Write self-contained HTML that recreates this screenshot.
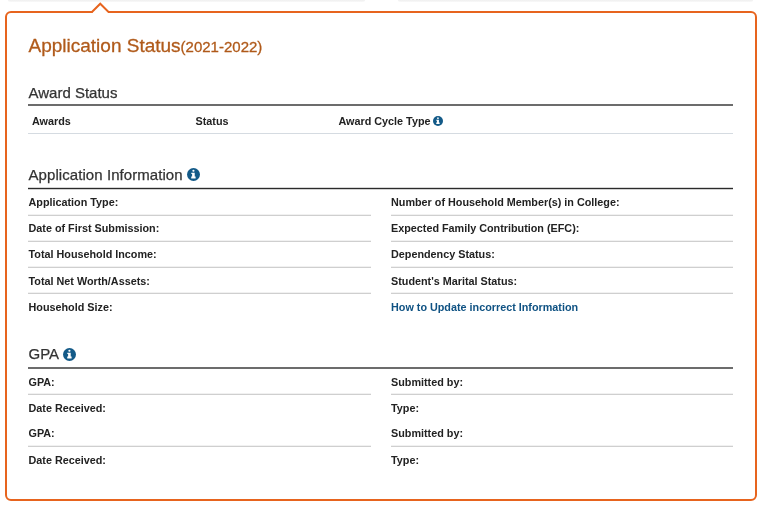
<!DOCTYPE html>
<html>
<head>
<meta charset="utf-8">
<style>
html,body{margin:0;padding:0;background:#fff;}
body{width:768px;height:507px;overflow:hidden;position:relative;font-family:"Liberation Sans",sans-serif;}
.strip{position:absolute;top:0;height:2px;background:linear-gradient(#efefef,#f9f9f9);border-radius:0 0 3px 3px;}
.box{position:absolute;left:5px;top:11px;width:748px;height:486px;border:2px solid #e7641e;border-radius:6px;}
.t{position:absolute;white-space:nowrap;line-height:1;}
.title{font-size:19px;color:#b05a1a;-webkit-text-stroke:0.3px #b05a1a;}
.title span{font-size:15px;}
.h{font-size:15px;color:#333;-webkit-text-stroke:0.25px #333;}
.b{font-size:10.8px;font-weight:bold;color:#222;}
.link{color:#0f5283;}
.ln{position:absolute;height:1px;}
.thick{height:2px;background:#6c6c6c;}
.thin{background:#cfcfcf;box-shadow:0 -1px 0 #f1f1f1;}
.icon{position:absolute;}
</style>
</head>
<body>
<div id="wrap" style="position:absolute;left:0;top:0;width:768px;height:507px;will-change:transform;">
<div class="strip" style="left:8px;width:357px;"></div>
<div class="strip" style="left:398px;width:355px;"></div>
<div class="box"></div>
<svg style="position:absolute;left:0;top:0" width="768" height="20">
  <rect x="92.5" y="10" width="15.5" height="4" fill="#fff"/>
  <polyline points="84,12 91.95,12 100.25,3.7 108.55,12 116,12" fill="none" stroke="#e7641e" stroke-width="2" stroke-linejoin="miter"/>
</svg>

<div class="t title" style="left:28.5px;top:35.7px;">Application Status<span>(2021-2022)</span></div>

<div class="t h" style="left:28.5px;top:84.6px;">Award Status</div>
<div class="ln thick" style="left:28px;width:705px;top:104px;"></div>

<div class="t b" style="left:32px;top:115.7px;">Awards</div>
<div class="t b" style="left:195.5px;top:115.7px;">Status</div>
<div class="t b" style="left:338.5px;top:115.7px;">Award Cycle Type</div>
<svg class="icon" style="left:433px;top:116px" width="10" height="10" viewBox="0 0 16 16"><circle cx="8" cy="8" r="8" fill="#135a88"/><circle cx="7.9" cy="3.4" r="1.35" fill="#fff"/><path d="M5.3 5.8H9.5V10.5H10.6V12.8H5.2V10.5H6.3V7.4H5.3Z" fill="#fff"/></svg>
<div class="ln" style="left:28px;width:705px;top:133px;background:#d5dbe1;"></div>

<div class="t h" style="left:28.5px;top:167px;letter-spacing:0.07px;">Application Information</div>
<svg class="icon" style="left:187px;top:168.2px" width="13" height="13" viewBox="0 0 16 16"><circle cx="8" cy="8" r="8" fill="#135a88"/><circle cx="7.9" cy="3.4" r="1.35" fill="#fff"/><path d="M5.3 5.8H9.5V10.5H10.6V12.8H5.2V10.5H6.3V7.4H5.3Z" fill="#fff"/></svg>
<div class="ln" style="left:28px;width:705px;top:188px;background:#2b2b2b;box-shadow:0 -1px 0 #d6d6d6,0 1px 0 #d0d0d0;"></div>

<!-- app info rows -->
<div class="t b" style="left:28.5px;top:196.6px;">Application Type:</div>
<div class="t b" style="left:28.5px;top:223.1px;">Date of First Submission:</div>
<div class="t b" style="left:28.5px;top:249.3px;">Total Household Income:</div>
<div class="t b" style="left:28.5px;top:275.6px;">Total Net Worth/Assets:</div>
<div class="t b" style="left:28.5px;top:301.6px;">Household Size:</div>
<div class="t b" style="left:391px;top:196.6px;">Number of Household Member(s) in College:</div>
<div class="t b" style="left:391px;top:223.1px;">Expected Family Contribution (EFC):</div>
<div class="t b" style="left:391px;top:249.3px;">Dependency Status:</div>
<div class="t b" style="left:391px;top:275.6px;">Student's Marital Status:</div>
<div class="t b link" style="left:391px;top:301.6px;">How to Update incorrect Information</div>

<div class="ln thin" style="left:28px;width:343px;top:215px;"></div>
<div class="ln thin" style="left:28px;width:343px;top:241px;"></div>
<div class="ln thin" style="left:28px;width:343px;top:267px;"></div>
<div class="ln thin" style="left:28px;width:343px;top:293px;"></div>
<div class="ln thin" style="left:391px;width:342px;top:215px;"></div>
<div class="ln thin" style="left:391px;width:342px;top:241px;"></div>
<div class="ln thin" style="left:391px;width:342px;top:267px;"></div>
<div class="ln thin" style="left:391px;width:342px;top:293px;"></div>

<!-- GPA -->
<div class="t h" style="left:28.5px;top:346.3px;">GPA</div>
<svg class="icon" style="left:63px;top:348px" width="13" height="13" viewBox="0 0 16 16"><circle cx="8" cy="8" r="8" fill="#135a88"/><circle cx="7.9" cy="3.4" r="1.35" fill="#fff"/><path d="M5.3 5.8H9.5V10.5H10.6V12.8H5.2V10.5H6.3V7.4H5.3Z" fill="#fff"/></svg>
<div class="ln thick" style="left:28px;width:705px;top:367px;"></div>

<div class="t b" style="left:28.5px;top:377.2px;">GPA:</div>
<div class="t b" style="left:28.5px;top:403.2px;">Date Received:</div>
<div class="t b" style="left:28.5px;top:428.4px;">GPA:</div>
<div class="t b" style="left:28.5px;top:454.8px;">Date Received:</div>
<div class="t b" style="left:391px;top:377.2px;">Submitted by:</div>
<div class="t b" style="left:391px;top:403.2px;">Type:</div>
<div class="t b" style="left:391px;top:428.4px;">Submitted by:</div>
<div class="t b" style="left:391px;top:454.8px;">Type:</div>

<div class="ln thin" style="left:28px;width:343px;top:394px;"></div>
<div class="ln thin" style="left:391px;width:342px;top:394px;"></div>
<div class="ln thin" style="left:28px;width:343px;top:446px;"></div>
<div class="ln thin" style="left:391px;width:342px;top:446px;"></div>
</div>
</body>
</html>
